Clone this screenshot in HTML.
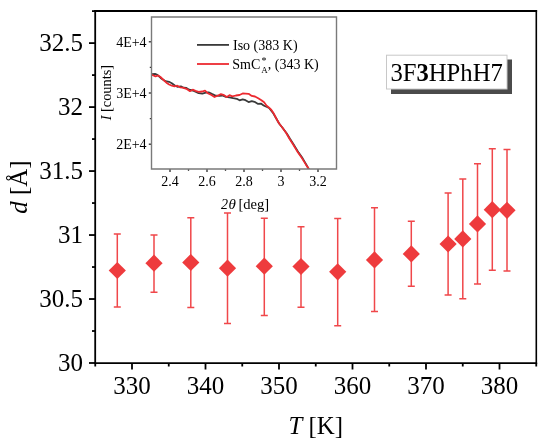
<!DOCTYPE html><html><head><meta charset="utf-8"><style>html,body{margin:0;padding:0;background:#fff;}svg{display:block;}text{font-family:"Liberation Serif",serif;}</style></head><body>
<svg width="550" height="446" viewBox="0 0 550 446">
<rect x="0" y="0" width="550" height="446" fill="#fff"/>
<g stroke="#f0474a" stroke-width="1.5" fill="none">
<path d="M117.30 233.90V306.90M113.80 233.90H120.80M113.80 306.90H120.80"/>
<path d="M154.00 234.90V292.30M150.50 234.90H157.50M150.50 292.30H157.50"/>
<path d="M190.80 217.80V307.60M187.30 217.80H194.30M187.30 307.60H194.30"/>
<path d="M227.50 213.10V323.40M224.00 213.10H231.00M224.00 323.40H231.00"/>
<path d="M264.30 218.30V315.50M260.80 218.30H267.80M260.80 315.50H267.80"/>
<path d="M301.00 226.70V307.30M297.50 226.70H304.50M297.50 307.30H304.50"/>
<path d="M337.70 218.50V325.70M334.20 218.50H341.20M334.20 325.70H341.20"/>
<path d="M374.50 207.80V311.60M371.00 207.80H378.00M371.00 311.60H378.00"/>
<path d="M411.30 221.20V286.20M407.80 221.20H414.80M407.80 286.20H414.80"/>
<path d="M448.10 192.90V295.00M444.60 192.90H451.60M444.60 295.00H451.60"/>
<path d="M462.80 179.00V298.80M459.30 179.00H466.30M459.30 298.80H466.30"/>
<path d="M477.50 163.70V284.00M474.00 163.70H481.00M474.00 284.00H481.00"/>
<path d="M492.30 148.70V270.30M488.80 148.70H495.80M488.80 270.30H495.80"/>
<path d="M507.00 149.50V270.90M503.50 149.50H510.50M503.50 270.90H510.50"/>
</g>
<g fill="#ee3b3d">
<path d="M117.30 261.90L125.90 270.50L117.30 279.10L108.70 270.50Z"/>
<path d="M154.00 254.60L162.60 263.20L154.00 271.80L145.40 263.20Z"/>
<path d="M190.80 253.90L199.40 262.50L190.80 271.10L182.20 262.50Z"/>
<path d="M227.50 259.60L236.10 268.20L227.50 276.80L218.90 268.20Z"/>
<path d="M264.30 257.60L272.90 266.20L264.30 274.80L255.70 266.20Z"/>
<path d="M301.00 257.90L309.60 266.50L301.00 275.10L292.40 266.50Z"/>
<path d="M337.70 263.20L346.30 271.80L337.70 280.40L329.10 271.80Z"/>
<path d="M374.50 251.30L383.10 259.90L374.50 268.50L365.90 259.90Z"/>
<path d="M411.30 245.30L419.90 253.90L411.30 262.50L402.70 253.90Z"/>
<path d="M448.10 235.40L456.70 244.00L448.10 252.60L439.50 244.00Z"/>
<path d="M462.80 230.30L471.40 238.90L462.80 247.50L454.20 238.90Z"/>
<path d="M477.50 215.30L486.10 223.90L477.50 232.50L468.90 223.90Z"/>
<path d="M492.30 201.10L500.90 209.70L492.30 218.30L483.70 209.70Z"/>
<path d="M507.00 201.70L515.60 210.30L507.00 218.90L498.40 210.30Z"/>
</g>
<g stroke="#000" fill="none">
<path d="M95.2 10V364" stroke-width="1.8"/>
<path d="M536.3 10V364" stroke-width="1.6"/>
<path d="M94.3 11H537.1" stroke-width="2"/>
<path d="M94.3 363.2H537.1" stroke-width="1.7"/>
<path d="M89 363.00H95" stroke-width="1.8"/>
<path d="M89 299.02H95" stroke-width="1.8"/>
<path d="M89 235.04H95" stroke-width="1.8"/>
<path d="M89 171.06H95" stroke-width="1.8"/>
<path d="M89 107.08H95" stroke-width="1.8"/>
<path d="M89 43.10H95" stroke-width="1.8"/>
<path d="M92 331.01H95" stroke-width="1.8"/>
<path d="M92 267.03H95" stroke-width="1.8"/>
<path d="M92 203.05H95" stroke-width="1.8"/>
<path d="M92 139.07H95" stroke-width="1.8"/>
<path d="M92 75.09H95" stroke-width="1.8"/>
<path d="M92 11.11H95" stroke-width="1.8"/>
<path d="M132.00 363V369.5" stroke-width="1.8"/>
<path d="M205.50 363V369.5" stroke-width="1.8"/>
<path d="M279.00 363V369.5" stroke-width="1.8"/>
<path d="M352.50 363V369.5" stroke-width="1.8"/>
<path d="M426.00 363V369.5" stroke-width="1.8"/>
<path d="M499.50 363V369.5" stroke-width="1.8"/>
<path d="M95.25 363V366.5" stroke-width="1.8"/>
<path d="M168.75 363V366.5" stroke-width="1.8"/>
<path d="M242.25 363V366.5" stroke-width="1.8"/>
<path d="M315.75 363V366.5" stroke-width="1.8"/>
<path d="M389.25 363V366.5" stroke-width="1.8"/>
<path d="M462.75 363V366.5" stroke-width="1.8"/>
<path d="M536.25 363V366.5" stroke-width="1.8"/>
</g>
<g font-size="25" text-anchor="end" fill="#000">
<text x="83" y="371.20">30</text>
<text x="83" y="307.22">30.5</text>
<text x="83" y="243.24">31</text>
<text x="83" y="179.26">31.5</text>
<text x="83" y="115.28">32</text>
<text x="83" y="51.30">32.5</text>
</g>
<g font-size="25" text-anchor="middle" fill="#000">
<text x="132.00" y="393.8">330</text>
<text x="205.50" y="393.8">340</text>
<text x="279.00" y="393.8">350</text>
<text x="352.50" y="393.8">360</text>
<text x="426.00" y="393.8">370</text>
<text x="499.50" y="393.8">380</text>
</g>
<text x="288.5" y="434.2" font-size="26" textLength="54.5" lengthAdjust="spacingAndGlyphs"><tspan font-style="italic">T</tspan> [K]</text>
<text transform="translate(27 213.65) rotate(-90)" font-size="26" textLength="53.3" lengthAdjust="spacingAndGlyphs"><tspan font-style="italic">d</tspan> [Å]</text>
<rect x="391" y="59.5" width="121" height="34.5" fill="#4b4b4b"/>
<rect x="386.5" y="55.2" width="120.5" height="33.8" fill="#fff" stroke="#c8c8c8" stroke-width="1"/>
<text x="390.4" y="80.5" font-size="25" textLength="112.4" lengthAdjust="spacingAndGlyphs">3F<tspan font-weight="bold">3</tspan>HPhH7</text>
<defs><clipPath id="ic"><rect x="151.5" y="17" width="185" height="152"/></clipPath></defs>
<g clip-path="url(#ic)" fill="none" stroke-width="1.8" stroke-linejoin="round" stroke-linecap="round">
<polyline points="151.5,74.3 152.3,74.1 155.0,73.9 157.3,74.8 160.9,78.2 165.5,81.2 169.1,81.8 171.8,83.2 174.5,85.2 177.3,86.8 180.9,86.4 183.6,87.7 186.4,87.9 189.1,89.7 192.7,90.5 195.5,91.8 198.6,93.2 202.3,93.6 205.9,92.7 208.6,92.3 212.3,94.1 215.9,95.7 219.5,95.9 222.3,95.5 225.9,96.8 229.5,97.3 233.2,98.2 236.8,98.8 239.5,100.3 242.7,99.3 245.5,100.2 248.6,102.1 251.8,101.1 254.5,101.8 257.7,103.8 260.9,103.6 263.6,105.5 266.4,106.8 269.1,108.0 272.8,112.6 276.0,118.0 279.1,123.5 282.3,127.5 286.8,133.5 290.0,138.8 293.8,144.7 298.6,152.6 302.5,158.1 306.2,164.4 308.6,169.0" stroke="#3a3a3a"/>
<polyline points="151.5,75.0 152.3,75.0 155.5,76.4 158.2,75.5 160.9,77.3 163.6,80.0 166.4,82.7 169.1,84.5 171.8,85.7 174.5,86.4 177.3,85.7 180.0,87.3 182.7,87.7 186.4,88.8 190.0,91.2 192.7,89.7 195.5,90.9 198.6,91.8 202.3,91.5 205.0,90.6 207.7,93.2 211.4,95.0 214.5,97.0 217.7,95.7 220.9,94.1 224.1,95.2 226.8,97.0 229.5,95.2 232.3,96.4 235.9,95.5 239.5,95.0 242.7,93.5 245.5,93.6 248.6,93.8 251.8,95.9 255.0,96.5 258.2,98.2 261.4,100.2 264.1,102.3 266.4,105.5 269.1,107.7 271.4,110.0 273.6,113.2 276.0,118.0 279.1,123.5 282.3,127.5 286.2,133.0 289.3,138.5 293.3,144.7 298.0,152.6 301.9,158.1 305.8,164.4 309.0,169.1" stroke="#ec2a30"/>
</g>
<path d="M151.5 17H336.5V169H151.5Z" stroke="#7a7a7a" fill="none" stroke-width="1.4"/>
<g stroke="#2a2a2a" fill="none" stroke-width="1.3">
<path d="M170.00 169.6V172"/>
<path d="M207.00 169.6V172"/>
<path d="M244.00 169.6V172"/>
<path d="M281.00 169.6V172"/>
<path d="M318.00 169.6V172"/>
<path d="M188.50 169.6V170.8"/>
<path d="M225.50 169.6V170.8"/>
<path d="M262.50 169.6V170.8"/>
<path d="M299.50 169.6V170.8"/>
<path d="M148.8 144.20H150.9"/>
<path d="M148.8 93.00H150.9"/>
<path d="M148.8 41.80H150.9"/>
<path d="M149.8 118.60H150.9"/>
<path d="M149.8 67.40H150.9"/>
</g>
<g font-size="14" fill="#000" text-anchor="middle">
<text x="170.00" y="185.8">2.4</text>
<text x="207.00" y="185.8">2.6</text>
<text x="244.00" y="185.8">2.8</text>
<text x="281.00" y="185.8">3</text>
<text x="318.00" y="185.8">3.2</text>
</g>
<g font-size="14" fill="#000" text-anchor="end">
<text x="146.6" y="148.90">2E+4</text>
<text x="146.6" y="97.70">3E+4</text>
<text x="146.6" y="46.50">4E+4</text>
</g>
<text y="209" font-size="14"><tspan x="220.9" font-style="italic">2</tspan><tspan x="228.6" font-style="italic" font-size="15">θ</tspan></text><text x="238.4" y="209" font-size="14" textLength="30.8" lengthAdjust="spacingAndGlyphs">[deg]</text>
<text transform="translate(110.9 120.3) rotate(-90)" font-size="14" textLength="55.3" lengthAdjust="spacingAndGlyphs"><tspan font-style="italic">I</tspan> [counts]</text>
<path d="M197 44.9H229" stroke="#3a3a3a" stroke-width="1.8"/>
<path d="M197 64H229" stroke="#ec2a30" stroke-width="1.8"/>
<text x="233" y="50.1" font-size="14">Iso (383 K)</text>
<text x="232.3" y="69.1" font-size="14">SmC<tspan font-size="10" dx="1.2" dy="-5.3">*</tspan><tspan font-size="9" x="261.3" dy="9.1">A</tspan><tspan dy="-3.8">,</tspan><tspan> (343 K)</tspan></text>
</svg></body></html>
